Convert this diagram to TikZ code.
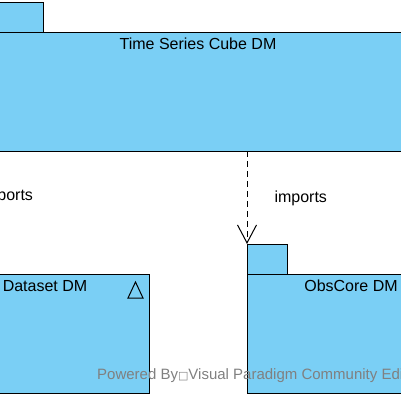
\documentclass[tikz,border=0pt]{standalone}
\usepackage{fontspec}
\setmainfont{Liberation Sans}
\newfontfamily\boxfont{DejaVu Sans}
\usetikzlibrary{arrows.meta}
\usetikzlibrary{positioning}
\definecolor{pkgblue}{RGB}{122,207,245}
\definecolor{wmgray}{RGB}{128,128,128}
\tikzset{x=1pt, y=-1pt, >={Straight Barb[length=18pt,width=19pt]}, font=\fontsize{16}{16}\selectfont}
\tikzstyle{pkgbody} = [draw, fill=pkgblue, rectangle, line width=1pt, anchor=north west, inner sep=0pt, outer sep=0pt, minimum width=208pt, minimum height=119pt]
\tikzstyle{pkgtab} = [draw, fill=pkgblue, rectangle, line width=1pt, anchor=south west, inner sep=0pt, outer sep=0pt, minimum width=40pt, minimum height=30pt]
\tikzstyle{title} = [anchor=base, inner sep=0pt]
\tikzstyle{depend} = [draw, line width=1pt, dash pattern=on 6pt off 4pt, ->]
\tikzstyle{deplabel} = [anchor=base west, inner sep=0pt]
\tikzstyle{watermark} = [anchor=west, inner sep=0pt, text=wmgray, font=\fontsize{15}{15}\selectfont]

\begin{document}
\begin{tikzpicture}
    \useasboundingbox (0,0) rectangle (401,401);
    \clip (0,0) rectangle (401,401);

    % packages
    \node [pkgtab, minimum width=103pt] (tsctab) at (-60,33) {};
    \node [pkgbody, minimum width=516pt, minimum height=118pt] (tsc) at (-60,33) {};
    \node [title] (tsctitle) at ([yshift=-17pt]tsc.north) {Time Series Cube DM};

    \node [pkgbody] (ds) at (-59,274) {};
    \node [pkgtab] (dstab) at (ds.north west) {};
    \node [title] (dstitle) at ([yshift=-17pt]ds.north) {Dataset DM};
    \draw [line width=1pt] ([xshift=-21pt,yshift=-24pt]ds.north east) -- ++(7.5,-16) -- ++(7.5,16) -- cycle;

    \node [pkgbody] (obs) at (247,274) {};
    \node [pkgtab] (obstab) at (obs.north west) {};
    \node [title] (obstitle) at ([yshift=-17pt]obs.north) {ObsCore DM};

    % dependencies
    \draw [depend] ([xshift=12pt]dstab.north west |- tsc.south) -- node [deplabel, pos=0.5, xshift=27pt, yshift=-2.5pt] {imports} ([xshift=12pt]dstab.north west);
    \draw [depend] (obstab.north west |- tsc.south) -- node [deplabel, pos=0.5, xshift=27pt, yshift=-4.5pt] {imports} (obstab.north west);

    \node [watermark] (wm) at (97,376) {Powered By{\boxfont\fontsize{11}{11}\selectfont □}Visual Paradigm Community Edition};
\end{tikzpicture}
\end{document}
